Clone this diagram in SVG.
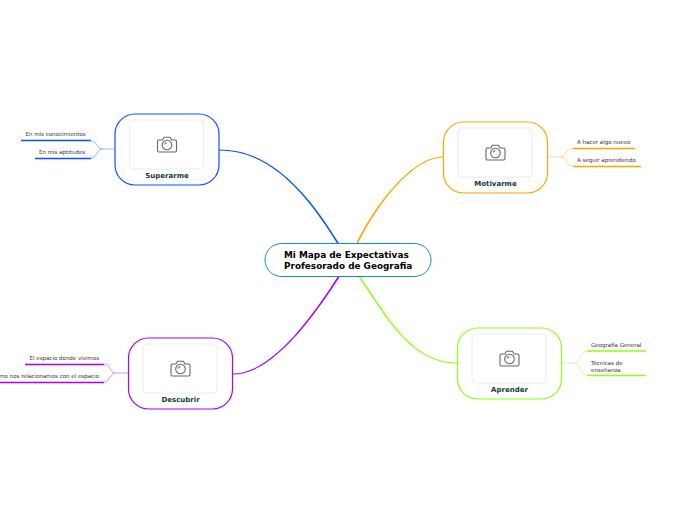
<svg xmlns="http://www.w3.org/2000/svg" width="697" height="520" viewBox="0 0 697 520">
<style>
text{font-family:"DejaVu Sans","Liberation Sans",sans-serif}
.t{font-size:5.5px;fill:#333}
.n{font-size:7px;font-weight:bold;fill:#0d3b35;text-anchor:middle}
.c{font-size:8.900px;font-weight:bold;fill:#000}
.b{fill:#fff;stroke-width:1.2}
.i{fill:#fff;stroke:#ececec;stroke-width:1}
.u{fill:none;stroke-width:1.7}
.th{fill:none;stroke-width:.7}
.cam{fill:none;stroke:#666;stroke-width:1.1;stroke-linejoin:round}
</style>
<defs>
<g id="cam">
<path class="cam" d="M-8.500-5h4l1.500-2.800h6l1.500 2.800h3.500q1.500 0 1.500 1.500v9q0 1.500-1.500 1.500h-16q-1.500 0-1.500-1.500v-9q0-1.500 1.500-1.500z"/>
<circle class="cam" cx="0" cy="0" r="4.800"/>
<path class="cam" d="M-2.300-.5a2.500 2.500 0 0 1 2-1.900"/>
</g>
</defs>
<g id="connectors">
<path fill="#0a50ff" d="M219 150.500C268.500 150.500 305 190.500 337.800 244.500H339.800C306 189.500 269.500 149.500 219 149.500Z"/>
<path fill="#ffa500" d="M443 156.500C412 156.500 374.500 205 355.800 244.500H357.800C376 205.500 413 157.500 443 157.500Z"/>
<path fill="#a600ff" d="M233 373.500C272 373.500 312.500 316 338.500 275.500H340.500C314 316.500 273 374.500 233 374.500Z"/>
<path fill="#8cff1a" d="M457 362.500C410 362.500 386 313 359.500 275.500H357.500C384.500 313.500 409 363.500 457 363.500Z"/>
<g stroke="#0a50ff">
<path class="th" stroke-opacity=".6" d="M115 149H102C97 149 97 141 91 141M102 149C97 149 97 158 91 158"/>
<path class="u" d="M21 140.500H91M35 158.500H91"/>
</g>
<g stroke="#a600ff">
<path class="th" stroke-opacity=".6" d="M128 373H115C110 373 110 364 104 364M115 373C110 373 110 382 104 382"/>
<path class="u" d="M25 364.500H104M0 382.500H104"/>
</g>
<g stroke="#ffa500">
<path class="th" stroke-opacity=".6" d="M548 157H561C566 157 566 148 573 148M561 157C566 157 566 166 573 166"/>
<path class="u" d="M573 148.500H635M573 166.500H641"/>
</g>
<g stroke="#8cff1a">
<path class="th" stroke-opacity=".6" d="M562 363H575C580 363 580 351 587 351M575 363C580 363 580 375 587 375"/>
<path class="u" d="M587 351H646M587 375.500H646"/>
</g>
</g>
<g id="central">
<rect x="265" y="243.500" width="166" height="33" rx="16.500" fill="#fff" stroke="#1d8ac9" stroke-width="1"/>
<text class="c" x="284" y="258">Mi Mapa de Expectativas</text>
<text class="c" x="284" y="269">Profesorado de Geografia</text>
</g>
<g id="superarme">
<rect class="b" x="115" y="114" width="104" height="71" rx="20" stroke="#0a50ff"/>
<rect class="i" x="129.500" y="120" width="74" height="49" rx="4"/>
<use href="#cam" x="167" y="145"/>
<text class="n" x="167" y="178">Superarme</text>
</g>
<g id="motivarme">
<rect class="b" x="443.500" y="122" width="104" height="71" rx="20" stroke="#ffa500"/>
<rect class="i" x="458" y="128" width="74" height="49" rx="4"/>
<use href="#cam" x="495.500" y="153"/>
<text class="n" x="495.500" y="186">Motivarme</text>
</g>
<g id="descubrir">
<rect class="b" x="128.500" y="338" width="104" height="71" rx="20" stroke="#a600ff"/>
<rect class="i" x="143" y="344" width="74" height="49" rx="4"/>
<use href="#cam" x="180.500" y="369"/>
<text class="n" x="180.500" y="402">Descubrir</text>
</g>
<g id="aprender">
<rect class="b" x="457.500" y="328" width="104" height="71" rx="20" stroke="#8cff1a"/>
<rect class="i" x="472" y="334" width="74" height="49" rx="4"/>
<use href="#cam" x="509.500" y="359"/>
<text class="n" x="509.500" y="392">Aprender</text>
</g>
<g id="leaf-conocimientos"><text class="t" x="25.500" y="136">En mis conocimientos</text></g>
<g id="leaf-aptitudes"><text class="t" x="39" y="154">En mis aptitudes</text></g>
<g id="leaf-espacio"><text class="t" x="29.500" y="360">El espacio donde vivimos</text></g>
<g id="leaf-relacionamos"><text class="t" x="99" y="378" text-anchor="end">Cómo nos relacionamos con el espacio</text></g>
<g id="leaf-hacer"><text class="t" x="577" y="144">A hacer algo nuevo</text></g>
<g id="leaf-seguir"><text class="t" x="577" y="162">A seguir aprendiendo</text></g>
<g id="leaf-geografia"><text class="t" x="591" y="347">Geografía General</text></g>
<g id="leaf-tecnicas"><text class="t" x="591" y="365">Técnicas de</text><text class="t" x="591" y="371.500">enseñanza</text></g>
</svg>
